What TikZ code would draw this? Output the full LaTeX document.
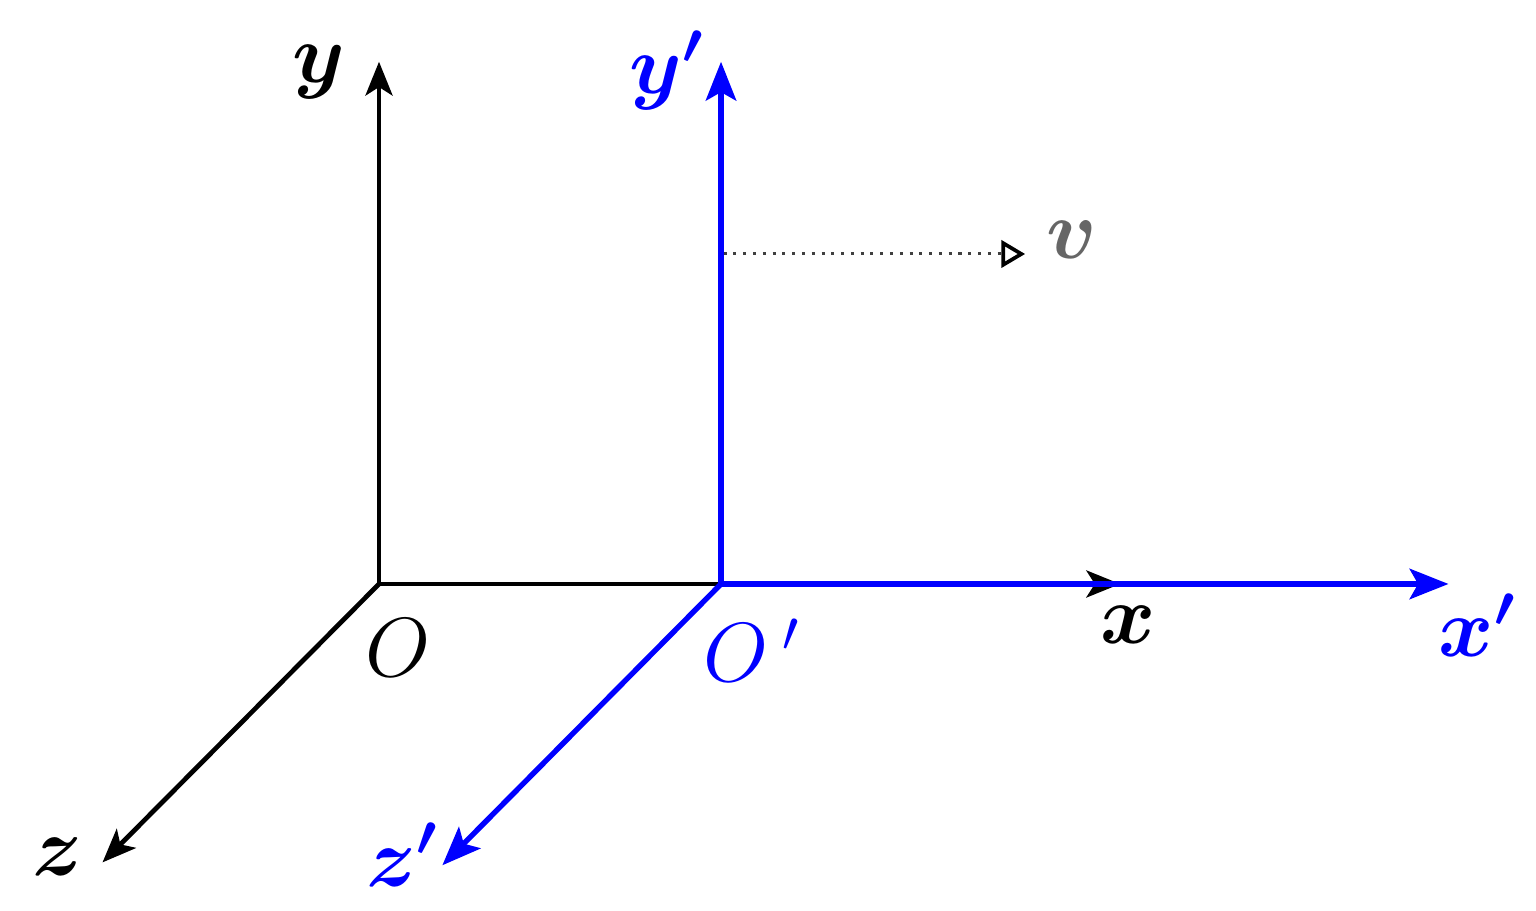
\documentclass[tikz,border=0pt]{standalone}
\usepackage{amsmath}
\usepackage{amssymb}
\usepackage{bm}
\usetikzlibrary{arrows.meta}

\begin{document}
\begin{tikzpicture}[
    ax/.style={line width=1.4pt,-{Stealth[length=10pt,width=8pt,inset=2.5pt]}},
    bax/.style={blue,line width=1.6pt,-{Stealth[length=11.5pt,width=9pt,inset=2.5pt]}},
    lbl/.style={font=\fontsize{25}{30}\selectfont}
  ]
            \useasboundingbox (-3.948,-3.396) rectangle (12.052,6.083);
            \coordinate (o) at (0,0);
            \coordinate (op) at (3.5625,0);
            \coordinate (yend) at (0,5.44);
            \coordinate (xend) at (7.72,0);
            \coordinate (zend) at (-2.88,-2.9);
            \coordinate (ypend) at (3.5625,5.44);
            \coordinate (xpend) at (11.14,0);
            \coordinate (zpend) at (0.66,-2.93);
            \coordinate (vs) at (3.59,3.4375);
            \coordinate (ve) at (6.73,3.4375);
            \node[lbl] at (-0.63,5.33) (y) {$\bm{y}$};
            \node[lbl] at (7.8,-0.43) (x) {$\bm{x}$};
            \node[lbl] at (-3.35,-2.84) (z) {$\bm{z}$};
            \node[lbl] at (0.2,-0.67) (O) {$O$};
            \node[lbl,blue] at (3.0,5.35) (yp) {$\bm{y'}$};
            \node[lbl,blue] at (11.44,-0.43) (xp) {$\bm{x'}$};
            \node[lbl,blue] at (0.24,-2.82) (zp) {$\bm{z'}$};
            \node[lbl,blue] at (3.88,-0.69) (Op) {$O\,'$};
            \node[lbl,black!60] at (7.22,3.58) (v) {$\bm{v}$};
            \draw[ax] (o) to (yend);
            \draw[ax] (o) to (xend);
            \draw[ax] (o) to (zend);
            \draw[bax] (op) to (ypend);
            \draw[bax] (op) to (xpend);
            \draw[bax] (op) to (zpend);
            \draw[black!75,line width=0.9pt,dotted,-{Triangle[open,black,length=7pt,width=8pt,line width=1.1pt]}] (vs) to (ve);
        \end{tikzpicture}
\end{document}
